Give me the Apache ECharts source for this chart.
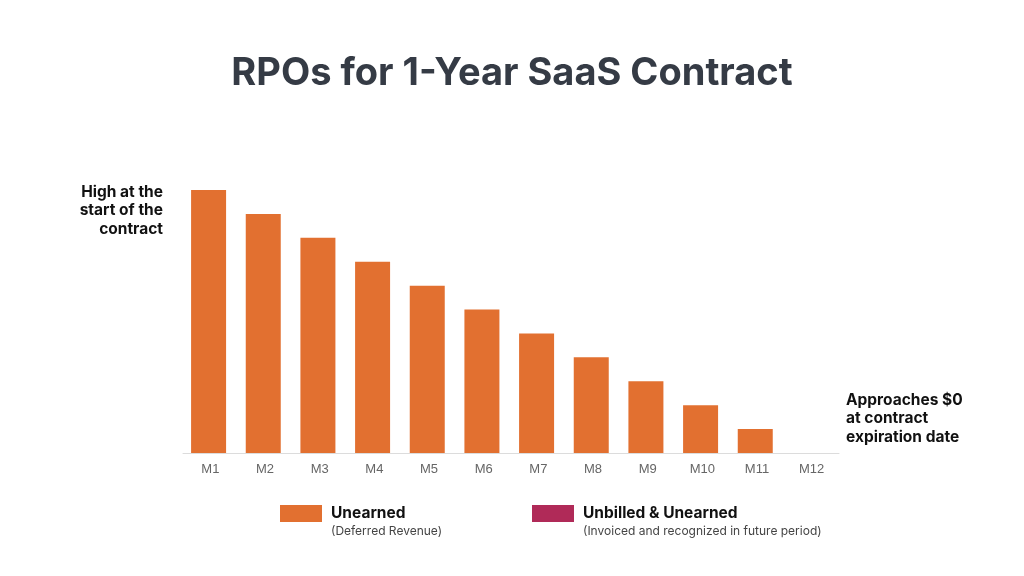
<!DOCTYPE html>
<html>
<head>
<meta charset="utf-8">
<script src="https://cdn.jsdelivr.net/npm/echarts@6/dist/echarts.min.js"></script>
<style>
  html, body { margin: 0; padding: 0; background: #fff; }
  #chart { width: 1024px; height: 576px; }
</style>
</head>
<body>
<div id="chart"></div>
<script>
// data
const months = ['M1', 'M2', 'M3', 'M4', 'M5', 'M6', 'M7', 'M8', 'M9', 'M10', 'M11', 'M12']
const unearned = [11, 10, 9, 8, 7, 6, 5, 4, 3, 2, 1, 0]
const legendNames = ['Unearned', 'Unbilled & Unearned']
const legendNotes = ['(Deferred Revenue)', '(Invoiced and recognized in future period)']
const legendColors = ['#e27030', '#b02a58']
const noteLeft = ['High at the', 'start of the', 'contract']
const noteRight = ['Approaches $0', 'at contract', 'expiration date']

const chart = echarts.init(document.getElementById('chart'))
const font = 'Inter, "Open Sans", sans-serif'

function legendItem(i, x) {
  return [
    { type: 'rect', x: x, y: 505, shape: { width: 42, height: 17 }, style: { fill: legendColors[i] } },
    { type: 'text', x: x + 51, y: 505, style: { text: legendNames[i], font: 'bold 15.5px ' + font, fill: '#111' } },
    { type: 'text', x: x + 51, y: 525, style: { text: legendNotes[i], font: '12px ' + font, fill: '#444' } }
  ]
}

chart.setOption({
  animation: false,
  title: {
    text: 'RPOs for 1-Year SaaS Contract',
    left: 'center',
    top: 50,
    textStyle: { fontFamily: font, fontWeight: 'bold', fontSize: 38, color: '#353b45' }
  },
  grid: { left: 183, right: 185, top: 190, bottom: 123 },
  xAxis: {
    type: 'category',
    data: months,
    axisLine: { lineStyle: { color: '#dcdcdc', width: 1 } },
    axisTick: { show: false },
    axisLabel: { color: '#666', fontFamily: 'Liberation Sans, Arial, sans-serif', fontSize: 13, margin: 10 }
  },
  yAxis: { type: 'value', min: 0, max: 11, show: false },
  series: [
    { name: legendNames[0], type: 'bar', data: unearned, barWidth: 35, itemStyle: { color: legendColors[0] } },
    { name: legendNames[1], type: 'bar', data: [], itemStyle: { color: legendColors[1] } }
  ],
  graphic: [
    {
      type: 'text', x: 163, y: 183,
      style: { text: noteLeft.join('\n'), font: 'bold 15.5px ' + font, fill: '#111', align: 'right', lineHeight: 18.5 }
    },
    {
      type: 'text', x: 846, y: 391,
      style: { text: noteRight.join('\n'), font: 'bold 15.5px ' + font, fill: '#111', lineHeight: 18.5 }
    },
    ...legendItem(0, 280),
    ...legendItem(1, 532)
  ]
})
</script>
</body>
</html>
